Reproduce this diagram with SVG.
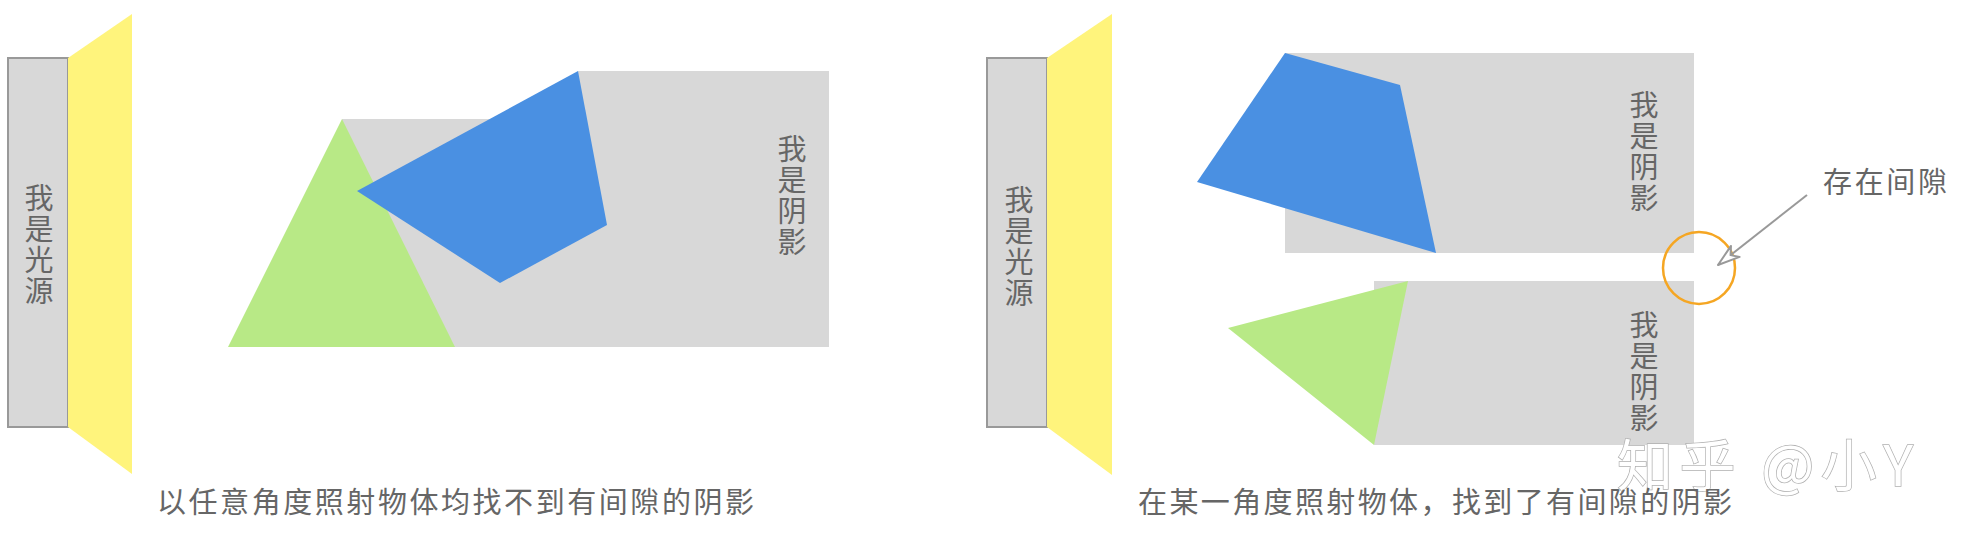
<svg xmlns="http://www.w3.org/2000/svg" width="1961" height="548" viewBox="0 0 1961 548">
<style>
.src{fill:#d8d8d8;stroke:#999;stroke-width:2}
.beam{fill:#fff47c}
.shadow{fill:#d8d8d8}
.blue{fill:#4a90e2}
.green{fill:#b8e986}
.t{font-family:"Noto Sans CJK SC","Noto Sans",sans-serif;fill:#666;font-size:29px}
.v{writing-mode:vertical-rl}
.wm{font-family:"Noto Sans CJK SC","Noto Sans",sans-serif;font-size:56px;fill:#fff;stroke:#b0b0b0;stroke-width:1.5;paint-order:stroke}
</style>
<defs>
<marker id="hollow" viewBox="-24 -9 26 18" refX="0" refY="0" markerWidth="26" markerHeight="18" markerUnits="userSpaceOnUse" orient="auto">
<path d="M0,0 L-22,-7 L-16,0 L-22,7 Z" fill="#fff" stroke="#999" stroke-width="2" stroke-linejoin="round"/>
</marker>
</defs>
<g id="left-panel">
<g id="left-light">
<rect class="src" x="8" y="58" width="60" height="369"/>
<polygon class="beam" points="68,58 132,14 132,474 68,427"/>
<text class="t v" x="39" y="183">我</text>
<text class="t v" x="39" y="214">是</text>
<text class="t v" x="39" y="245">光</text>
<text class="t v" x="39" y="276">源</text>
</g>
<g id="left-shadow">
<rect class="shadow" x="342" y="119" width="487" height="228"/>
<rect class="shadow" x="578" y="71" width="251" height="276"/>
<text class="t v" x="792" y="134">我</text>
<text class="t v" x="792" y="165">是</text>
<text class="t v" x="792" y="196">阴</text>
<text class="t v" x="792" y="227">影</text>
</g>
<g id="left-green"><polygon class="green" points="342,119 228,347 455,347"/></g>
<g id="left-blue"><polygon class="blue" points="578,71 607,225 500,283 357,191"/></g>
<g id="left-caption"><text class="t" x="157" y="513" textLength="597" lengthAdjust="spacing">以任意角度照射物体均找不到有间隙的阴影</text></g>
</g>
<g id="right-panel">
<g id="right-light">
<rect class="src" x="987" y="58" width="60" height="369"/>
<polygon class="beam" points="1047,58 1112,14 1112,475 1047,427"/>
<text class="t v" x="1019" y="185">我</text>
<text class="t v" x="1019" y="216">是</text>
<text class="t v" x="1019" y="247">光</text>
<text class="t v" x="1019" y="278">源</text>
</g>
<g id="right-shadow-top">
<rect class="shadow" x="1285" y="53" width="409" height="200"/>
<text class="t v" x="1644" y="90">我</text>
<text class="t v" x="1644" y="121">是</text>
<text class="t v" x="1644" y="152">阴</text>
<text class="t v" x="1644" y="183">影</text>
</g>
<g id="right-shadow-bottom">
<rect class="shadow" x="1374" y="281" width="320" height="164"/>
<text class="t v" x="1644" y="310">我</text>
<text class="t v" x="1644" y="341">是</text>
<text class="t v" x="1644" y="372">阴</text>
<text class="t v" x="1644" y="403">影</text>
</g>
<g id="right-blue"><polygon class="blue" points="1285,53 1400,85 1436,253 1197,182"/></g>
<g id="right-green"><polygon class="green" points="1408,281 1228,328 1374,445"/></g>
<g id="gap-marker"><circle cx="1699" cy="268" r="36" fill="none" stroke="#f5a623" stroke-width="2.5"/></g>
<g id="gap-label"><text class="t" x="1823" y="193" textLength="124" lengthAdjust="spacing">存在间隙</text></g>
<g id="watermark"><text class="wm" x="1617" y="486" textLength="296" lengthAdjust="spacing">知乎 @小Y</text></g>
<g id="right-caption"><text class="t" x="1138" y="513" textLength="594" lengthAdjust="spacing">在某一角度照射物体，找到了有间隙的阴影</text></g>
</g>
<g id="connectors">
<line x1="1807" y1="195" x2="1718" y2="265" stroke="#999" stroke-width="2" marker-end="url(#hollow)"/>
</g>
</svg>
